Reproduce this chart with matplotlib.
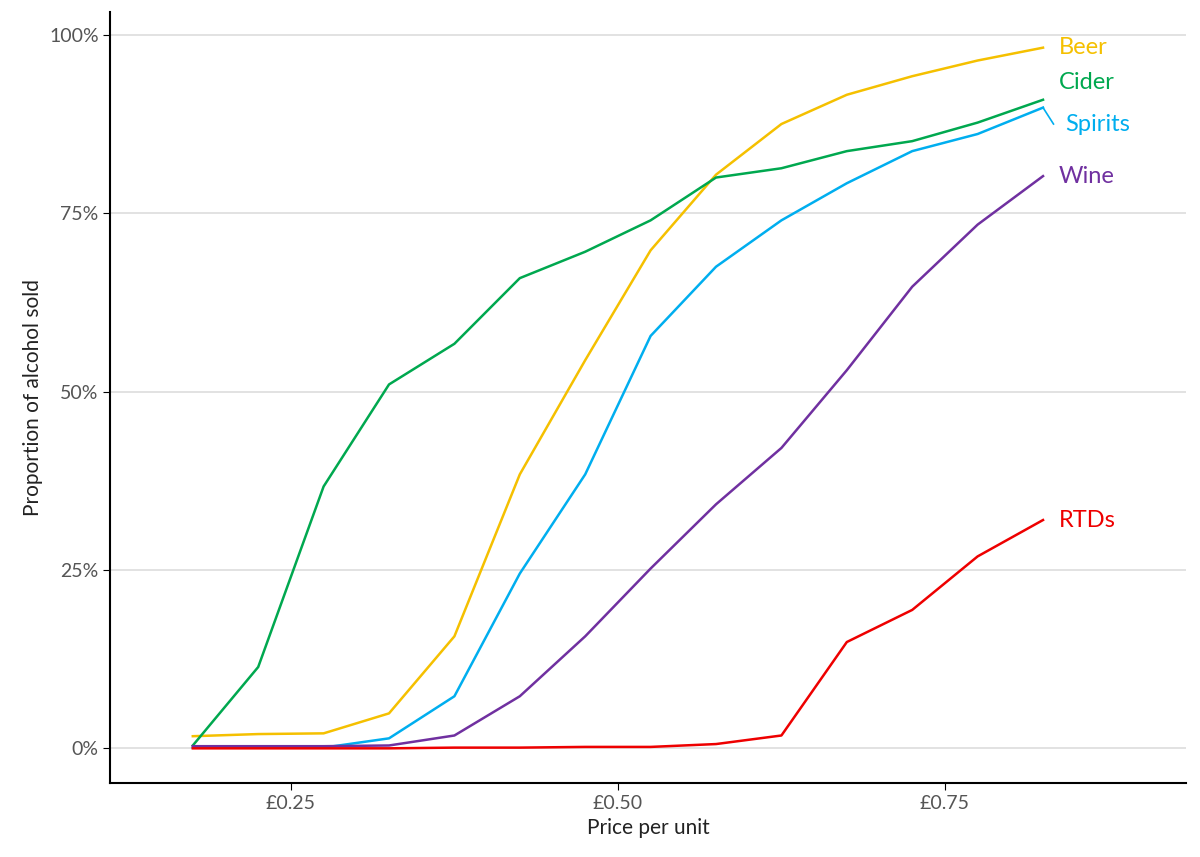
import numpy as np
import matplotlib.pyplot as plt
from matplotlib.ticker import PercentFormatter

plt.rcParams['font.family'] = ['Lato', 'DejaVu Sans']

price = [0.175, 0.225, 0.275, 0.325, 0.375, 0.425, 0.475, 0.525, 0.575, 0.625, 0.675, 0.725, 0.775, 0.825]
beer = [1.7, 2.0, 2.1, 4.9, 15.7, 38.4, 54.4, 69.8, 80.4, 87.5, 91.6, 94.2, 96.4, 98.2]
cider = [0.4, 11.4, 36.7, 51.0, 56.7, 65.9, 69.6, 74.0, 80.0, 81.3, 83.7, 85.1, 87.7, 90.9]
spirits = [0.1, 0.1, 0.1, 1.4, 7.3, 24.5, 38.4, 57.8, 67.5, 74.0, 79.2, 83.7, 86.1, 89.8]
wine = [0.3, 0.3, 0.3, 0.4, 1.8, 7.3, 15.7, 25.2, 34.2, 42.1, 53.0, 64.7, 73.4, 80.2]
rtds = [0.0, 0.0, 0.0, 0.0, 0.1, 0.1, 0.2, 0.2, 0.6, 1.8, 14.9, 19.4, 26.9, 32.0]

series = [('Beer', beer, '#F5C000', 98.2),
          ('Cider', cider, '#00A84F', 93.3),
          ('Spirits', spirits, '#00AEEF', 87.5),
          ('Wine', wine, '#7030A0', 80.2),
          ('RTDs', rtds, '#EE0000', 32.0)]

fig, ax = plt.subplots(figsize=(12, 8.57), dpi=100)
fig.subplots_adjust(left=0.092, right=0.988, top=0.986, bottom=0.086)

for name, vals, col, ylab in series:
    ax.plot(price, vals, color=col, lw=1.8)
    if name == 'Spirits':
        ax.plot([price[-1], price[-1] + 0.008], [vals[-1], ylab], color=col, lw=1.2)
        ax.text(price[-1] + 0.017, ylab, name, color=col, fontsize=17, va='center')
    else:
        ax.text(price[-1] + 0.012, ylab, name, color=col, fontsize=17, va='center')

ax.set_xlim(0.112, 0.934)
ax.set_ylim(-4.9, 103.2)
ax.set_xticks([0.25, 0.50, 0.75])
ax.set_xticklabels(['£0.25', '£0.50', '£0.75'])
ax.set_yticks([0, 25, 50, 75, 100])
ax.yaxis.set_major_formatter(PercentFormatter(decimals=0))
ax.grid(axis='y', color='#DDDDDD', lw=1.2)
ax.set_axisbelow(True)
for s in ['top', 'right']:
    ax.spines[s].set_visible(False)
ax.spines['left'].set_linewidth(1.5)
ax.spines['bottom'].set_linewidth(1.5)
ax.tick_params(labelsize=14, colors='#555555', length=5)
ax.tick_params(color='black')
ax.set_xlabel('Price per unit', fontsize=15, color='#222222')
ax.set_ylabel('Proportion of alcohol sold', fontsize=15, color='#222222')

fig.savefig('out.png', dpi=100)
